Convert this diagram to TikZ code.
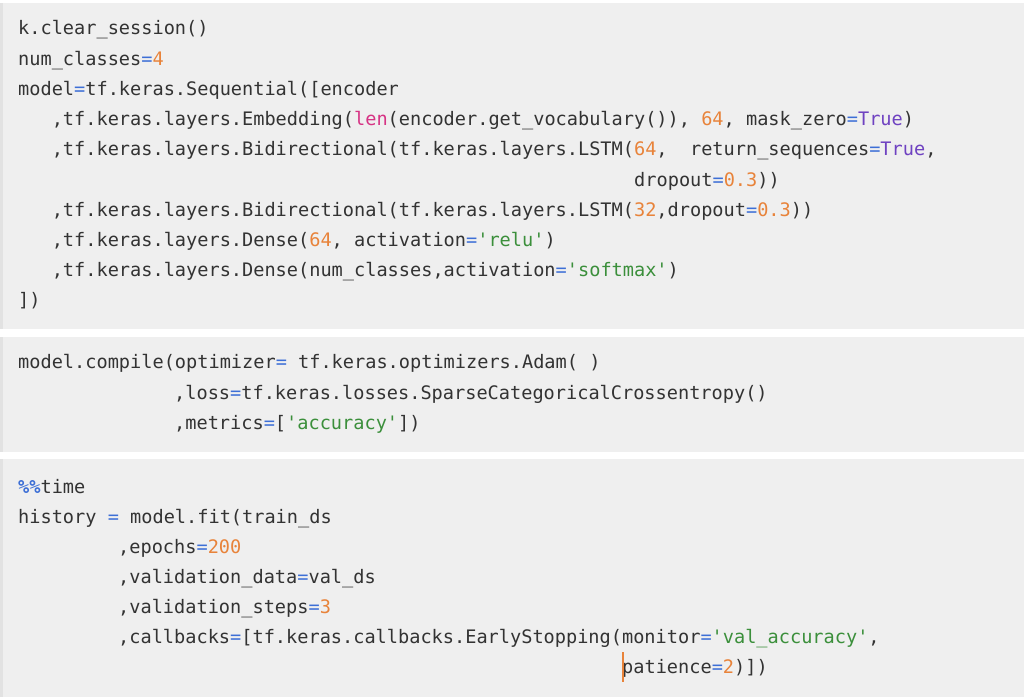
\documentclass[tikz,border=0pt]{standalone}
\usepackage{fontspec}
\newfontfamily\cf{DejaVu Sans Mono}
\definecolor{bg}{HTML}{EFEFEF}
\definecolor{edge}{HTML}{E2E2E2}
\definecolor{txt}{HTML}{333333}
\definecolor{op}{HTML}{3D6FD6}
\definecolor{num}{HTML}{E8833A}
\definecolor{kw}{HTML}{6F42C1}
\definecolor{str}{HTML}{3B8F3B}
\definecolor{bi}{HTML}{D63384}
\newcommand\Q{\char"0027}
\newcommand\E{\textcolor{op}{=}}
\newcommand\N[1]{\textcolor{num}{#1}}
\newcommand\K[1]{\textcolor{kw}{#1}}
\newcommand\St[1]{\textcolor{str}{\Q#1\Q}}
\begin{document}
\begin{tikzpicture}[x=1pt,y=-1pt,
  ln/.style={anchor=base west,inner sep=0pt,font=\cf\fontsize{18.6}{20}\selectfont,text=txt}]
\useasboundingbox (0,0) rectangle (1024,699);
\fill[white] (0,0) rectangle (1024,699);
\foreach \a/\b in {3/329,337/452,459/697}{
  \fill[bg] (0,\a) rectangle (1024,\b);
  \fill[edge] (0,\a) rectangle (3,\b);}
\node[ln] (l1) at (18,34) {k.clear\_session()};
\node[ln] (l2) at (18,65) {num\_classes\E\N{4}};
\node[ln] (l3) at (18,95) {model\E tf.keras.Sequential([encoder};
\node[ln] (l4) at (18,125) {\ \ \ ,tf.keras.layers.Embedding(\textcolor{bi}{len}(encoder.get\_vocabulary()), \N{64}, mask\_zero\E\K{True})};
\node[ln] (l5) at (18,155) {\ \ \ ,tf.keras.layers.Bidirectional(tf.keras.layers.LSTM(\N{64},\ \ return\_sequences\E\K{True},};
\node[ln] (l6) at (634,186) {dropout\E\N{0.3}))};
\node[ln] (l7) at (18,216) {\ \ \ ,tf.keras.layers.Bidirectional(tf.keras.layers.LSTM(\N{32},dropout\E\N{0.3}))};
\node[ln] (l8) at (18,246) {\ \ \ ,tf.keras.layers.Dense(\N{64}, activation\E\St{relu})};
\node[ln] (l9) at (18,276) {\ \ \ ,tf.keras.layers.Dense(num\_classes,activation\E\St{softmax})};
\node[ln] (l10) at (18,306) {])};
\node[ln] (m1) at (18,368) {model.compile(optimizer\E\ tf.keras.optimizers.Adam( )};
\node[ln] (m2) at (174,399) {,loss\E tf.keras.losses.SparseCategoricalCrossentropy()};
\node[ln] (m3) at (174,429) {,metrics\E[\St{accuracy}])};
\node[ln] (h1) at (18,493) {\textcolor{op}{\bfseries\%\%}time};
\node[ln] (h2) at (18,523) {history \E\ model.fit(train\_ds};
\node[ln] (h3) at (118,553) {,epochs\E\N{200}};
\node[ln] (h4) at (118,583) {,validation\_data\E val\_ds};
\node[ln] (h5) at (118,613) {,validation\_steps\E\N{3}};
\node[ln] (h6) at (118,643) {,callbacks\E[tf.keras.callbacks.EarlyStopping(monitor\E\St{val\_accuracy},};
\node[ln] (h7) at (622,673) {patience\E\N{2})])};
\draw[num,line width=1.5pt] (623,652) -- (623,682);
\end{tikzpicture}
\end{document}
